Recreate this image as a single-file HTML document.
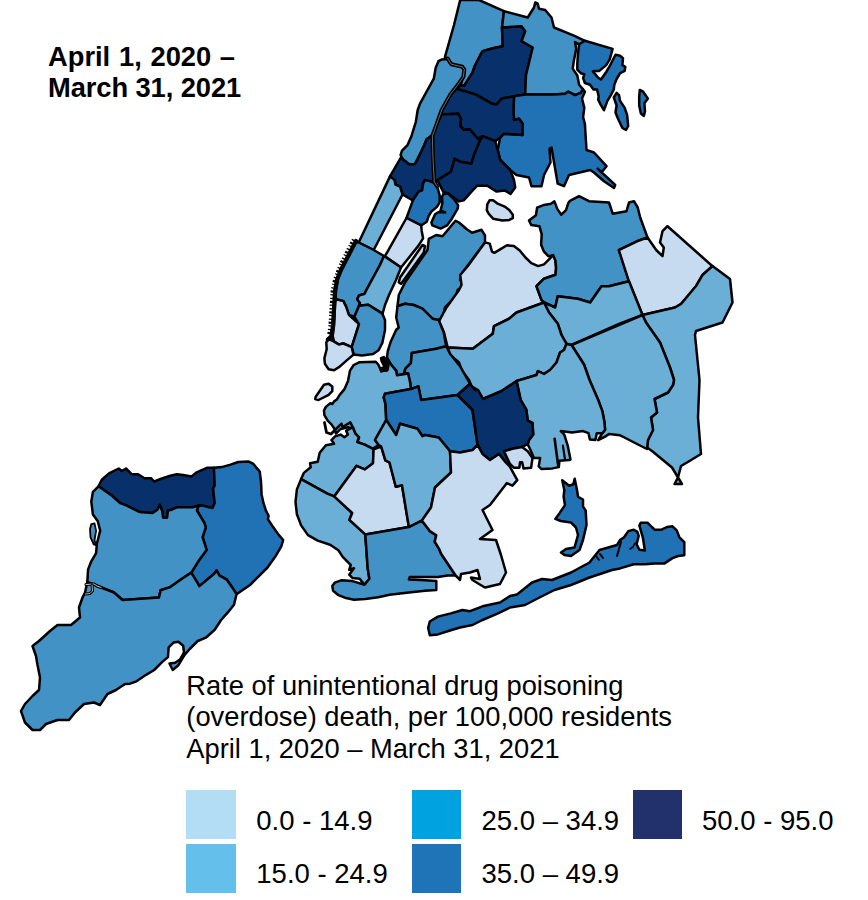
<!DOCTYPE html>
<html><head><meta charset="utf-8"><title>map</title>
<style>
html,body{margin:0;padding:0;background:#fff;}
body{width:868px;height:900px;position:relative;overflow:hidden;font-family:"Liberation Sans",sans-serif;color:#000;}
svg{position:absolute;left:0;top:0;}
.t{position:absolute;white-space:nowrap;}
.title{left:48px;top:42.1px;font-size:27.3px;font-weight:bold;line-height:30.75px;}
.cap{left:186.3px;top:670.2px;font-size:27.3px;line-height:31.25px;}
.lb{font-size:27.5px;line-height:30px;}
.sw{position:absolute;width:49.25px;height:49.25px;}
</style></head><body>
<svg width="868" height="900" viewBox="0 0 868 900">
<g stroke="#000" stroke-width="2.5" stroke-linejoin="round" stroke-linecap="round">
<path d="M460.2,0 479,0 504,11.2 502,27.5 502.7,46.2 492.9,48.3 482.7,51.1 480,55.7 474.4,66.8 472.6,72.3 464.3,85.7 460.6,85.2 463.4,76.9 464.3,69.5 462.4,66.8 451.5,64.3 449.8,62 447.7,58.5 444.9,57.1 454,25Z" fill="#4292c6"/>
<path d="M502,27.5 521.5,26.2 525.2,31.2 521.5,41.2 532.7,47.5 526,75 525.2,94.5 514,96.2 501.5,98.7 496.6,104.6 492,103.7 475.4,94.4 459.7,89.8 456.9,88.9 460.6,85.2 464.3,85.7 472.6,72.3 474.4,66.8 480,55.7 482.7,51.1 492.9,48.3 502.7,46.2Z" fill="#08306b"/>
<path d="M504,11.2 527.7,17.5 534,7.5 535.2,2.5 537.7,3.7 539,8.7 545.2,10 551.5,17.5 554,27.5 573.9,35.6 584.9,40.8 583.1,43.7 579.1,44.3 575,42 576.2,48.9 573.9,60.5 572.7,68.6 577.3,75.5 579.1,84.7 583.1,89.4 580.8,92.8 575,95.1 568.1,91.7 565.2,93.7 554,94.5 525.2,94.5 526,75 532.7,47.5 521.5,41.2 525.2,31.2 521.5,26.2 502,27.5Z" fill="#4292c6"/>
<path d="M514,96.2 525.2,94.5 554,94.5 565.2,93.7 568.1,91.7 575,95.1 580.8,92.8 583.1,89.4 584.9,91.7 582,98.6 584.3,107.9 583.1,117.1 584.9,124 586.5,150 594,152.5 606.5,166.2 601.5,172.5 597.7,168.7 615.2,185 614,188 604,181.2 594,172.5 590.2,170 569,175 564,186.2 557.7,183.7 554.5,165 551.5,147.5 549.5,148.7 550.5,162.5 544,175 541.5,186.2 531.5,186.2 529,177.5 516.5,175 510.2,170 500.2,160 497.7,150 500.2,137.5 504,133.7 522.7,135 522.7,123.7 519,118.7 514,120 513.5,110Z" fill="#2171b5"/>
<path d="M579.1,44.3 584.9,40.8 612.6,48.9 609.7,59.3 606.2,65.1 599.3,70.9 594.7,70.9 592.9,71.4 598.2,77.8 601,79.5 606.2,72 609.7,66.2 613.2,59.3 615.5,54.7 620.1,55.8 623,58.2 622.4,65.1 625.3,66.8 624.7,70.9 620.1,73.2 616.6,79 614.3,84.7 613.8,89.4 610.9,95.1 607.4,100.9 603.9,110.2 600.5,104.4 598.2,99.8 598.7,96.3 597,89.4 593.5,89.4 590.1,84.7 584.9,83 583.1,77.8 584.3,74.3 580.8,73.2 577.3,69.7 577.3,63.9 577.9,54.7Z" fill="#2171b5"/>
<path d="M616.6,92.8 619,95.1 620.1,100.9 624.7,107.9 627.1,114.8 628.2,126 626,130 622.4,128 617.8,118.3 615.5,112.5 616.6,105.5 613.8,97.5Z" fill="#2171b5"/>
<path d="M639.8,89.9 643.2,91.7 647.9,98.6 644.4,103.2 645,111.3 643.8,115.9 640.9,113.6 639.2,105.5 639.2,96.3Z" fill="#2171b5"/>
<path d="M456.9,88.9 459.7,89.8 475.4,94.4 492,103.7 496.6,104.6 501.5,98.7 514,96.2 513.5,110 514,120 519,118.7 522.7,123.7 522.7,135 504,133.7 500.2,137.5 495.2,141.2 482.7,136.2 477.7,138.7 470,129.5 463.8,129.8 460.1,125.7 461,119.2 458.3,113.7 441.7,114.6 441.7,110 450.4,94.4Z" fill="#08306b"/>
<path d="M441.7,114.6 458.3,113.7 461,119.2 460.1,125.7 463.8,129.8 470,129.5 477.7,138.7 480.2,140 474,155 471.5,163.7 460.1,161.7 454.6,158.9 450.9,171.8 436.1,181 434.3,182 432.9,156.1 432.4,135.8 436.1,125.7Z" fill="#08306b"/>
<path d="M436.1,181 450.9,171.8 454.6,158.9 460.1,161.7 471.5,163.7 474,155 480.2,140 482.7,136.2 495.2,141.2 497.7,150 500.2,160 510.2,170 514,180 515.2,187.5 510.5,193.9 504.7,190.4 496.6,191.6 487.3,185.8 476.9,185.8 472,191.2 463.7,200.4 459,201.4 452.6,196.8 448,193.1 443.4,192.1 437.8,181.1Z" fill="#08306b"/>
<path d="M487.3,204.3 489.7,200.2 493.1,200.2 497.7,203.7 504.7,206.6 509.3,210.1 512.8,214.7 512.8,218.2 509.3,219.9 502.4,220.5 493.1,218.7 488.5,213.5 486.8,210.1Z" fill="#c6dbef"/>
<path d="M438.5,61.2 442.1,59.4 447.7,58.9 449.8,62 451.5,64.3 462.4,66.8 464.3,69.5 463.4,76.9 456.9,86.1 450.4,94.4 441.7,110 436.1,125.7 432.4,135.8 431.5,135.8 426.4,139.5 425.5,142.3 420.4,153.4 417.7,158.9 414.9,164 409.4,164.4 403.4,159.8 400.6,155.2 402,150.6 407.5,145.1 411.2,136.8 415.8,122 417.7,110 420,103.6 433.8,78.7 435.7,67.7Z" fill="#4292c6"/>
<path d="M400.6,158 403.4,159.8 409.4,164.4 414.9,164 417.7,158.9 420.4,153.4 425.5,142.3 426.4,139.5 431.5,135.8 432.4,135.8 432.9,156.1 434.3,182 429.5,181.1 424.9,180.1 423.1,183.8 422.1,190.3 418.5,191.7 412.9,200.4 402.5,194.5 400.1,186.6 395.5,184.7 394.6,180.1 390,176.4Z" fill="#08306b"/>
<path d="M424.9,180.1 429.5,181.1 434.1,182.9 437.8,188.5 439.7,195.8 439.7,202.3 436.9,206.9 431.4,211.5 428.6,216.1 426.8,221.7 421.2,225.4 406.5,218 412.9,200.4 418.5,191.7 422.1,190.3 423.1,183.8Z" fill="#2171b5"/>
<path d="M443.4,194 448,193.5 453.5,198.6 458.1,205.1 457.7,208.7 451.7,218.9 447,225.4 440.6,228.6 432.3,225.4 431.4,222.6 435.1,214.3 438.7,212 445.2,212.4 440.6,210.6 442.4,203.2 442,196.8Z" fill="#2171b5"/>
<path d="M390,176.4 394.6,180.1 395.5,184.7 400.1,186.6 402.5,194.5 373.7,250 358.7,242.5Z" fill="#6baed6"/>
<path d="M406.5,218 421.2,225.4 421.7,230.9 423.1,238.3 418.5,245.6 401,267.5 385,256.2Z" fill="#c6dbef"/>
<path d="M422.5,245 425,246.2 423.8,252.5 401.2,283.8 398.8,282.5 400,277.5Z" fill="#c6dbef"/>
<path d="M355.5,242 358.7,242.5 373.7,250 384,256 380,265 366.4,290 364.6,293.7 359,295.5 357.2,299.2 360,302.9 359,305.7 354.4,316.8 348.9,314.9 346.1,306.6 343.4,301.1 336,299.2 335.5,298.3 336,290 338,278.9 341.5,269.7 349.5,254Z" fill="#4292c6"/>
<path d="M384,256 401,267.5 396,280 389,295 385,305 382.5,314 380,312.1 368.3,304.8 359,305.7 360,302.9 357.2,299.2 359,295.5 364.6,293.7 366.4,290 380,265Z" fill="#6baed6"/>
<path d="M336,299.2 343.4,301.1 346.1,306.6 348.9,314.9 359,324.1 351.7,347.2 343.4,343.5 338.7,344.4 334.1,341.7 332.7,336.1 334.1,325.1 334.6,313.1 335.1,302Z" fill="#c6dbef"/>
<path d="M359,305.7 368.3,304.8 380,312.1 382.5,314 385,320 385,330 382.3,342.9 378.6,350.3 373.1,354 362,355.4 353.7,354.4 351.7,347.2 359,324.1 354.4,316.8Z" fill="#4292c6"/>
<path d="M327.7,338.9 332.7,340.7 334.1,341.7 338.7,344.4 343.4,343.5 351.7,347.2 353.5,354.6 347,360.1 339.7,366.6 334.1,370.3 328.6,369.3 324.9,363.8 324.4,358.3 326.7,349 326.3,342.6Z" fill="#c6dbef"/>
<path d="M315.7,396.8 324,384.8 328.6,383.8 332.3,386.6 332.3,391.2 328.6,394.9 318.5,400 315.2,399.1Z" fill="#c6dbef"/>
<path d="M455.5,220.8 459,222.5 466.5,229 472,232.8 480,230.2 481.5,229.8 485,235.5 485,242.5 462.5,272.5 460,280 463.8,282.5 462.5,286.2 457.5,290 456.2,296.2 445,307.5 442.5,317.5 438.8,320 432.5,318.8 422.5,308.8 413.8,305 405,303.8 397.5,306.2 398.8,295 405,282.5 427.5,250 428.8,238.8 436.2,235 442.5,236.2Z" fill="#4292c6"/>
<path d="M485,242.4 489.7,243.6 492,251.7 494.3,252.8 500.1,249.4 507,245.3 513.9,245.9 519.7,250.5 525.5,257.5 531.3,263.2 538.2,266.1 544,264.4 549.8,258.6 553.2,255.1 555.5,260.9 556.1,267.9 555.5,274.8 544,278.7 536.5,286.2 541.5,300 544,302.5 516.5,312.5 509,318.7 494,326.2 492.7,333.7 472.7,348.7 447.7,347.5 444,332.5 439,321.2 446.5,307.5 459,290 461.5,285 460.2,275 467.7,266.2Z" fill="#c6dbef"/>
<path d="M529,220.5 535.9,215.3 537.1,207.7 544,204.9 550.9,203.7 554.4,201.4 557.3,208.9 561.3,214.7 566,210.1 568.3,203.1 570,200.8 579,196.2 589,201.2 609,202.5 612.7,213.7 626.5,211.2 629,202.5 634,201.2 637.7,207.5 640.2,217.5 647.5,237.5 637.5,241 619,250 629,281.2 609,286.2 601.5,286.2 590.2,302.5 577.7,298.7 557.7,296.2 555.2,307.5 544,302.5 541.5,300 536.5,286.2 544,278.7 555.5,274.8 556.1,267.9 555.5,260.9 553.2,255.1 548.6,256.3 544,251.7 541.1,244.7 541.7,234.3 539.4,226.2 531.3,225.1Z" fill="#4292c6"/>
<path d="M618.8,250 637.5,241.2 647.5,237.5 656.2,250 662.5,256.2 663.8,247.5 660,242.5 662.5,231.2 667.5,226.2 712.5,266.2 702.5,275 696.2,286.2 681.2,303.8 675,307.5 642.5,315 628.8,281.2Z" fill="#c6dbef"/>
<path d="M555.2,307.5 557.8,296.2 577.8,298.8 590.2,302.5 601.5,286.2 609,286.2 629,281.2 642.5,315 619,323.8 571.5,345 566.5,343.8 561.5,335 557.8,323.8 549,312.5 544,302.5Z" fill="#6baed6"/>
<path d="M447.8,347.5 472.8,348.8 492.8,333.8 494,326.2 509,318.8 516.5,312.5 544,302.5 549,312.5 557.8,323.8 561.5,335 566.5,343.8 564,350 560.2,352.5 556.5,362.5 550.2,370 544,373.8 537.8,371.2 536.5,375 516.5,381.2 501.5,391.2 482.8,398.8 477.8,390 471.5,386.2 469,380 461.5,370 459,362.5 450.2,355Z" fill="#6baed6"/>
<path d="M712.5,266 730,279 732.5,302.5 722.5,322.5 696,331 695,335 699.5,380 698,417.5 701,454 689.5,461 681,466 678,477.5 682,484 674.5,484 678,477.5 672,467.5 652,451 647,447.5 648,440 653,430 651,417.5 657,412.5 654.5,399 668,392.5 673,385 674,380 670,367.5 660,342.5 646,322.5 642.5,315 675,307.5 681,304 696,286 702.5,275Z" fill="#6baed6"/>
<path d="M571.5,345 642.5,315 646,322.5 660,342.5 670,367.5 674,380 673,385 668,392.5 654.5,399 657,412.5 651,417.5 653,430 648,440 647,449 637,444 624.5,437.5 620,435.3 609.2,433.9 605.1,436.6 598.2,440.1 602.3,433.2 605.1,429.7 604.4,422.1 602.3,411.1 598.2,400 589.5,380 584,364.5Z" fill="#6baed6"/>
<path d="M516.5,381 520.7,400 526.3,409.7 527.7,420.7 532.5,422.8 533.2,434.6 529,440.1 527.7,444.2 530,449 533.9,458.1 540.1,458.1 538.7,466.4 541.5,469.1 552.5,468.4 558.8,467.1 559.4,460.8 569.1,460.1 570.5,459.5 567.7,445.6 564.3,434.6 560.8,431.1 571.9,432.5 583,431.1 588.5,433.2 589.9,439.4 595.4,440.1 596.8,433.2 602.3,433.2 605.1,429.7 604.4,422.1 602.3,411.1 598.2,400 589.5,380 584,364.5 571.5,345 566.5,344 564,350 560,352.5 556.5,362.5 550,370 544,374 538,371 536.5,375Z" fill="#6baed6"/>
<path d="M562.2,480.2 569.1,485.7 573.3,484.3 574.7,478.8 576.7,488.5 578.1,496.8 583,499.5 583,506.5 585.7,510.6 586.5,525 583,540 579.5,550 571,556 564.5,555 561,552.5 566,549 574.5,547.5 578,535 576,527.5 571,522.5 560.8,521 555.3,518.9 559.4,513.4 565,505.1 563.6,496.8 564.3,489.9Z" fill="#2171b5"/>
<path d="M428.2,627.9 429.8,621.5 437.9,616.6 450.8,613.4 462.5,610 470,611.2 482.5,606.3 500,602.5 510,596 517,594.5 532,582.5 542,579 552,580 571,572.5 589.5,562.5 599.5,550 617,545 620,540.1 624.1,537.3 628.3,531.1 633.8,529.7 637.3,531.8 638.7,535.9 636.6,544.2 639.4,549.8 644.9,550.5 642.8,537.3 639.4,525.6 640.7,522.8 647.7,522.8 651.8,527 654.6,529.7 661.5,529.7 667,527 672.5,526.3 676.7,530.4 679.4,537.3 684.3,542.2 684.3,555.3 678.1,556 672.5,558.1 664.2,563.6 654.6,563.6 644.9,564.3 633.8,564.3 620,568.4 612,570 589.5,577.5 571,585 554.5,590 539.5,597.5 525,605 510,607.5 497.5,613.7 482.5,620 472.5,625 460,627.5 450.8,630.3 437.9,634.4 429.8,635.2Z" fill="#2171b5"/>
<path d="M397.5,306.2 405,303.7 413.7,305 422.5,308.7 432.5,318.7 438.7,320 443.7,332.5 446.2,346.2 436.2,348.7 411.8,353.1 410.9,363.2 405.4,368.7 404.4,372.4 403.5,374.3 397,375.2 396.1,370.6 390.6,364.1 386.9,357.7 387.8,351.2 390.6,342 396.1,330 398.7,327.5 396.2,317.5Z" fill="#4292c6"/>
<path d="M411.8,353.1 436.2,348.7 446.2,346.2 450,353.7 460,366.2 465,375 470,383.7 457.5,395 421.2,400 418.3,386.3 410.9,389 410,381.7 408.1,373.4 404.4,372.4 405.4,368.7 410.9,363.2Z" fill="#4292c6"/>
<path d="M350,370.6 353.7,365 359.2,362.3 375.8,361.8 378.6,365 380.9,370.6 386.9,370.6 387.8,366.9 384,362 386.9,357.7 390.6,364.1 396.1,370.6 397,375.2 403.5,374.3 408.1,373.4 410,381.7 410.9,389 385,393.7 383.7,397.3 385.5,403.8 386.2,420 375,440 378.7,445 372.5,448.7 364.6,444.7 357.2,442 359,437.3 355.4,433.7 353,427.7 350.7,428.1 348,427.2 340.6,429 336,433.7 334.6,429 331.4,424.4 327.7,420.7 324.4,415.2 324,410.6 325.8,406.9 330.4,403.2 332.3,404.1 334.1,401.4 336.9,399.5 339.7,394.9 344.3,389.4 348,381Z" fill="#6baed6"/>
<path d="M301.1,479.1 303.8,472.9 310.7,467.3 310,463.2 317.7,461.8 319.7,452.8 325.9,445.2 334.1,443.8 331.4,440.1 335.1,436.4 340.6,434.6 344.3,437.3 348,434.6 346.1,430.9 350.7,428.1 353,427.7 355.4,433.7 359,437.3 357.2,442 364.6,444.7 372.5,448.7 373.6,449.4 373,463.2 364.7,469.4 356.4,465.9 334.2,496.4 327.3,493.6Z" fill="#6baed6"/>
<path d="M385,393.7 410.9,389 418.3,386.3 421.2,400 457.5,395 465,402.5 472.5,410 477.5,445 472.5,450 460,452.5 450,451.2 438.7,437.5 425,435 422.5,436.2 417.5,428.7 400,423.7 396.2,435 386.2,420 385.5,403.8 383.7,397.3Z" fill="#2171b5"/>
<path d="M457.5,395 470,384 475,390 478,390 483,399 501.5,391 516.5,381 520.7,400 526.3,409.7 527.7,420.7 532.5,422.8 533.2,434.6 529,440.1 527.7,444.2 522.1,447 513.8,448.4 504.1,451.2 509.7,463.6 505.5,462.2 500,455.3 499,454 490,460 482.5,454 477.5,444 472.5,410 465,402.5Z" fill="#08306b"/>
<path d="M504.1,451.2 513.8,448.4 522.1,447 527.7,451.2 532.5,458.1 531.1,467.7 523.5,468.4 522.1,462.2 520,462.2 519.4,467.7 513.8,467.7 509.7,463.6Z" fill="#c6dbef"/>
<path d="M301.1,479.1 327.3,493.6 334.2,496.4 352.2,513 349.4,519.9 365.3,534.4 367.7,568.2 369.4,578.7 364.5,584.7 362.1,581.9 359.7,578.7 352.4,577.9 349.2,574.7 354,568.2 349.2,569.8 350.8,565 347.6,561.8 342.7,556.9 338.4,550.3 330.1,544.7 317.7,540.6 308,535.1 301.1,525.4 296.9,514.3 295.5,501.9 296.9,489.4Z" fill="#6baed6"/>
<path d="M334.2,496.4 356.4,465.9 364.7,469.4 373,463.2 373.6,449.4 381.2,446.6 385.4,460.4 389.5,462.5 395.8,486.7 402,485.3 408.9,527.1 365.3,534.4 349.4,519.9 352.2,513Z" fill="#c6dbef"/>
<path d="M375,440 386.2,420 396.2,435 400,423.7 417.5,428.7 422.5,436.2 425,435 438.7,437.5 450,451.2 451,472.5 435,487.5 431,507.5 421.8,520.6 408.9,527.1 402,485.3 395.8,486.7 389.5,462.5 385.4,460.4 381.2,446.6 378.7,445Z" fill="#6baed6"/>
<path d="M365.3,534.4 408.9,527.1 421.8,520.6 429.8,531.1 436.3,535.2 434.7,541.6 439.5,549.7 441.1,553.7 455.6,575.5 447.6,575.5 437.9,577.1 421.8,577.1 409.7,577.1 408.9,579.5 425,580.3 436.3,581.1 436.3,590 425,590.8 408.9,592.4 389.5,594.8 378.2,597.3 365.3,598.9 354,599.7 346,598.1 337.9,594.8 333.1,590.8 332.3,586 334.7,582.7 341.1,580.3 352.4,581.1 364.5,584.7 369.4,578.7 367.7,568.2Z" fill="#4292c6"/>
<path d="M450,451.2 460,452.5 472.5,450 477.5,445 482.5,454 490,460 499,454 500,455.3 505.5,462.2 509.7,466.4 517.3,480.2 512.4,485.7 506.9,483 490,505 482.5,510 492.5,530 480,539 496,540 501,555 506,572.5 500,584 485,587.5 479,584 472.5,580 471,577.5 480,579 477.5,570 470,572.5 461,574 460,580 459.7,579.5 455.6,575.5 441.1,553.7 439.5,549.7 434.7,541.6 436.3,535.2 429.8,531.1 421.8,520.6 431,507.5 435,487.5 451,472.5Z" fill="#c6dbef"/>
<path d="M98.5,486.3 101.8,479.8 109,473.4 118.7,468.5 121.9,471 126,468.5 131.6,474.2 138.1,474.2 144.5,478.2 151,478.2 154.2,481.5 160.6,479 170.3,475.8 176.8,474.2 183.2,475 191.3,476.6 196.1,472.6 207.4,467.7 213.9,467.7 214.7,485.5 213.1,488.7 214.7,503.2 212.3,508.1 202.6,505.6 198.5,505.6 192.9,507.3 176.8,507.3 171.9,509.7 167.9,510.5 167.1,517.7 163.1,517.7 162.3,511.3 159.8,504.8 157.4,509.7 152.6,512.9 139.7,512.1 126.8,505.6 120.3,503.2 112.3,496Z" fill="#08306b"/>
<path d="M213.9,467.7 221.7,467.1 230.6,464.6 238.2,462 248.3,461.4 253.4,463.9 255.9,467.1 259.7,471.5 261,481.7 261.6,494.4 263.5,503.2 266,510.8 268.6,515.9 267.9,519.1 272.4,526 278.7,534.9 283.2,540 281.3,546.3 276.2,555.2 267.5,567.5 250,585 236.5,594.2 232.4,587.7 226.8,579.7 219.5,575.6 216.5,570.5 213.9,574 199.4,586.1 191.3,572.6 191.3,572.6 199.4,559.7 206.6,550 202.6,537.1 205.8,527.4 204.2,522.6 196.9,510.5 198.5,505.6 202.6,505.6 212.3,508.1 214.7,503.2 213.1,488.7 214.7,485.5Z" fill="#2171b5"/>
<path d="M98.5,486.3 112.3,496 120.3,503.2 126.8,505.6 139.7,512.1 152.6,512.9 157.4,509.7 159.8,504.8 162.3,511.3 163.1,517.7 167.1,517.7 167.9,510.5 171.9,509.7 176.8,507.3 192.9,507.3 198.5,505.6 202.6,505.6 202.6,505.6 198.5,505.6 196.9,510.5 204.2,522.6 205.8,527.4 202.6,537.1 206.6,550 199.4,559.7 191.3,572.6 181.6,579 170.3,587.1 160.6,590.3 159,597.5 122.5,600 114,592.5 105,589 95,585 87.3,582.3 88.1,569.4 91.3,561.3 96.1,553.2 96.9,543.5 100.2,530.6 97.7,521 92.9,514.5 91.3,501.6 92.9,491.9Z" fill="#4292c6"/>
<path d="M87.3,582.3 85,592.5 82.5,597.5 79,607.5 80,617.5 71,625 57.5,625 50,631 39,641 32.5,646 36,656 37.5,665 40,677.5 39,690 32.5,696 25,704 21,711 25,722.5 32.5,730 40,730 46,724 57.5,720 69,720 75,712.5 84,704 94,702.5 100,705 107.5,694 116,690 125,684 130,683.7 136.5,681.3 146.1,674.8 154.2,670 162.3,661.9 167.9,657.1 168.7,647.4 173.5,642.6 178.4,641.8 183.2,645.8 184,652.3 180,659.5 175.2,662.7 169.5,663.5 172.7,670 178.4,665.2 184.8,654.7 189.7,649 197.7,641 205.8,637.7 214.7,629.7 221.1,620 227.6,612.7 234,604.7 236.5,594.2 232.4,587.7 226.8,579.7 219.5,575.6 216.5,570.5 213.9,574 199.4,586.1 191.3,572.6 181.6,579 170.3,587.1 160.6,590.3 159,597.5 122.5,600 114,592.5 105,589 95,585Z" fill="#4292c6"/>
<path d="M447.7,58.5 449.8,62 451.5,64.3 462.4,66.8 464.3,69.5 463.4,76.9 456.9,86.1 450.4,94.4 441.7,110 436.1,125.7 432.4,135.8 432.9,156.1 434.3,182 437,186" fill="none" stroke="#000" stroke-width="4.0"/>
<path d="M447.7,58.5 449.8,62 451.5,64.3 462.4,66.8 464.3,69.5 463.4,76.9 456.9,86.1 450.4,94.4 441.7,110 436.1,125.7 432.4,135.8 432.9,156.1 434.3,182 437,186" fill="none" stroke="#9a9a9a" stroke-width="0.7"/>
<path d="M356,241 349.2,254 341,269.7 337.2,279 335.2,290 334.6,298.5 333.8,313 333,325 331.5,336 328,339.5" fill="none" stroke="#000" stroke-width="4.2"/>
<path d="M354.5,240 349,250 341,266 336,279 333.5,290 332.8,299 332,313 331.2,325 330,335" fill="none" stroke="#000" stroke-width="5.5" stroke-dasharray="1.4 1.7 2.2 1.5 1.2 2.4" stroke-linecap="butt"/>
<path d="M324.5,422.5 326.5,432.5 331,434 335,430" fill="none" stroke="#000" stroke-width="2.8"/>
<path d="M335,430 341.5,423.7 342.6,427 350.3,422.4 353,427.7" fill="none" stroke="#000" stroke-width="2.5"/>
<path d="M380.5,358 384,356.5 389,365 388,370 381,372 380,368 384,367 381,361Z" fill="#000" stroke="#000" stroke-width="1.5"/>
<path d="M554.6,438.7 558.1,465" fill="none" stroke="#000" stroke-width="2.6"/>
<path d="M562.9,445.6 565,459.5" fill="none" stroke="#000" stroke-width="2.2"/>
<path d="M617,556 621,542" fill="none" stroke="#000" stroke-width="2"/>
<path d="M630,549 633,547 635,543" fill="none" stroke="#000" stroke-width="1.6"/>
<path d="M596,556 599,560" fill="none" stroke="#000" stroke-width="2"/>
<path d="M600,554 603,558" fill="none" stroke="#000" stroke-width="2"/>
<path d="M91.3,524.2 94.5,523.4 96.1,530.6 94.5,540.3 96.1,545.2 93.7,544.4 90.5,537.1 90,529Z" fill="#4292c6" stroke="#000" stroke-width="1.8"/>
<path d="M86,584.5 94,584 97,586 101,587.5" fill="none" stroke="#000" stroke-width="3.2"/>
<path d="M86,584.5 94,584 97,586 101,587.5" fill="none" stroke="#ddd" stroke-width="0.9"/>
<path d="M92,585 92.5,591 90,593.5 85.5,594" fill="none" stroke="#000" stroke-width="3.0"/>
<path d="M92,585 92.5,591 90,593.5 85.5,594" fill="none" stroke="#ddd" stroke-width="0.8"/>
</g>
</svg>
<div class="t title"><span style="word-spacing:1.2px">April 1, 2020</span><span style="margin-left:1px"> &ndash;</span><br><span style="letter-spacing:-0.08px">March 31, 2021</span></div>
<div class="t cap">Rate of unintentional drug poisoning<br>(overdose) death, per 100,000 residents<br>April 1, 2020 &ndash; March 31, 2021</div>
<div class="sw" style="left:186.25px;top:790px;background:#b3dcf5"></div>
<div class="sw" style="left:186.25px;top:843.75px;background:#64c0ea"></div>
<div class="sw" style="left:412px;top:790px;background:#00a3e0"></div>
<div class="sw" style="left:412px;top:843.75px;background:#1f74b8"></div>
<div class="sw" style="left:632.5px;top:790px;background:#22306b"></div>
<div class="t lb" style="left:256.3px;top:805.6px;">0.0 - 14.9</div>
<div class="t lb" style="left:256.3px;top:859.4px;">15.0 - 24.9</div>
<div class="t lb" style="left:481.5px;top:805.6px;">25.0 &ndash; 34.9</div>
<div class="t lb" style="left:481.5px;top:859.4px;">35.0 &ndash; 49.9</div>
<div class="t lb" style="left:702px;top:805.6px;">50.0 - 95.0</div>
</body></html>
